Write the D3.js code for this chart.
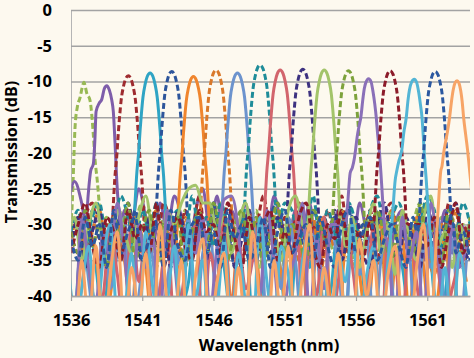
<!DOCTYPE html>
<html>
<head>
<meta charset="utf-8">
<script src="https://cdn.jsdelivr.net/npm/d3@7"></script>
<style>
html, body { margin: 0; padding: 0; background: #fdf9ef; }
svg { display: block; }
text { font-family: "Open Sans", sans-serif; font-weight: 700; fill: #000; }
</style>
</head>
<body>
<div id="chart"></div>
<script>
// tick labels
var xTicks = [1536, 1541, 1546, 1551, 1556, 1561];
var yTicks = [0, -5, -10, -15, -20, -25, -30, -35, -40];

// wavelength grids of the crosstalk floor (nm)
var gridA = [1536,1536.5,1537,1537.5,1538,1538.5,1539,1539.5,1540,1540.5,1541,1541.5,1542,1542.5,1543,1543.5,1544,1544.5,1545,1545.5,1546,1546.5,1547,1547.5,1548,1548.5,1549,1549.5,1550,1550.5,1551,1551.5,1552,1552.5,1553,1553.5,1554,1554.5,1555,1555.5,1556,1556.5,1557,1557.5,1558,1558.5,1559,1559.5,1560,1560.5,1561,1561.5,1562,1562.5,1563,1563.5,1564];
var gridB = [1535.75,1536.25,1536.75,1537.25,1537.75,1538.25,1538.75,1539.25,1539.75,1540.25,1540.75,1541.25,1541.75,1542.25,1542.75,1543.25,1543.75,1544.25,1544.75,1545.25,1545.75,1546.25,1546.75,1547.25,1547.75,1548.25,1548.75,1549.25,1549.75,1550.25,1550.75,1551.25,1551.75,1552.25,1552.75,1553.25,1553.75,1554.25,1554.75,1555.25,1555.75,1556.25,1556.75,1557.25,1557.75,1558.25,1558.75,1559.25,1559.75,1560.25,1560.75,1561.25,1561.75,1562.25,1562.75,1563.25,1563.75];

// crosstalk floor of each channel (dB), odd channels on gridA, even on gridB
var floor1 = [-30,-29,-28,-29,-30,-29,-33,-28,-35,-30,-27,-32,-36,-29,-31,-34,-28,-33,-30,-36,-29,-27,-33,-31,-35,-30,-28,-34,-32,-29,-36,-30,-27,-33,-35,-29,-31,-34,-28,-32,-36,-30,-29,-34,-31,-28,-33,-35,-30,-27,-32,-34,-29,-31,-35,-30,-33];
var floor2 = [-28,-24,-27,-31,-30,-29,-28,-27,-28,-30,-25,-29,-33,-27,-31,-26,-29,-34,-28,-25,-31,-26,-33,-28,-30,-27,-34,-29,-32,-26,-30,-33,-28,-31,-27,-35,-29,-32,-28,-30,-34,-27,-31,-33,-29,-36,-30,-28,-33,-31,-35,-29,-32,-28,-34,-30,-31];
var floor3 = [-31,-34,-29,-27,-32,-30,-30,-30,-30,-30,-30,-29,-33,-27,-30,-35,-28,-31,-26,-33,-29,-34,-27,-31,-35,-28,-30,-26,-32,-34,-29,-31,-27,-33,-30,-35,-28,-31,-26,-34,-30,-32,-28,-35,-29,-27,-33,-30,-34,-28,-31,-29,-35,-27,-32,-30,-33];
var floor4 = [-34,-42,-31,-30,-36,-44,-33,-30,-35,-32,-30,-30,-30,-30,-30,-33,-41,-38,-29,-45,-31,-30,-36,-43,-33,-30,-44,-42,-29,-31,-37,-46,-34,-28,-36,-31,-42,-39,-30,-44,-29,-33,-41,-31,-30,-45,-34,-36,-43,-32,-29,-35,-44,-40,-31,-34,-33];
var floor5 = [-33,-30,-35,-28,-32,-36,-29,-31,-34,-28,-33,-30,-30,-30,-30,-30,-30,-35,-29,-32,-27,-34,-31,-36,-28,-33,-30,-35,-29,-27,-32,-34,-30,-36,-28,-31,-33,-29,-35,-27,-32,-30,-34,-28,-36,-31,-29,-33,-35,-30,-27,-34,-31,-28,-33,-36,-30];
var floor6 = [-36,-44,-39,-31,-34,-42,-40,-32,-35,-43,-30,-36,-45,-39,-31,-35,-29,-30,-30,-30,-30,-30,-30,-41,-32,-44,-29,-39,-46,-31,-37,-43,-30,-35,-44,-32,-29,-42,-45,-33,-31,-37,-44,-34,-30,-46,-35,-32,-43,-29,-36,-45,-40,-31,-44,-34,-38];
var floor7 = [-32,-29,-35,-31,-28,-34,-36,-30,-33,-29,-35,-31,-28,-34,-30,-36,-29,-32,-35,-28,-30,-30,-30,-30,-30,-33,-29,-36,-31,-28,-34,-30,-35,-32,-29,-37,-31,-33,-28,-35,-30,-34,-29,-36,-32,-28,-33,-35,-31,-29,-34,-37,-30,-32,-28,-35,-31];
var floor8 = [-37,-44,-30,-38,-45,-31,-39,-34,-29,-43,-40,-32,-35,-46,-38,-33,-36,-29,-44,-34,-31,-42,-30,-30,-30,-30,-30,-30,-44,-32,-39,-29,-35,-45,-31,-34,-43,-30,-36,-44,-29,-37,-32,-45,-35,-31,-43,-30,-34,-46,-33,-36,-29,-42,-32,-44,-35];
var floor9 = [-31,-28,-33,-29,-27,-32,-30,-26,-29,-33,-28,-31,-27,-34,-30,-28,-32,-26,-31,-29,-33,-27,-30,-32,-28,-30,-30,-30,-30,-30,-27,-28,-32,-30,-26,-33,-28,-31,-34,-27,-30,-33,-28,-26,-31,-29,-27,-30,-32,-30,-26,-28,-33,-29,-31,-27,-30];
var floor10 = [-35,-44,-31,-36,-42,-40,-30,-37,-45,-29,-38,-32,-43,-39,-31,-44,-40,-33,-30,-46,-34,-38,-29,-43,-32,-39,-35,-30,-30,-30,-30,-30,-30,-44,-33,-40,-29,-45,-38,-31,-36,-43,-39,-30,-46,-32,-35,-44,-31,-38,-45,-29,-36,-43,-39,-35,-32];
var floor11 = [-33,-29,-36,-31,-28,-34,-30,-35,-27,-32,-35,-29,-33,-30,-36,-28,-31,-34,-29,-35,-27,-33,-30,-36,-32,-28,-35,-30,-34,-29,-31,-30,-30,-30,-30,-30,-33,-28,-35,-31,-29,-34,-36,-30,-27,-33,-35,-29,-32,-36,-28,-31,-34,-30,-27,-33,-35];
var floor12 = [-32,-29,-35,-30,-27,-33,-36,-28,-31,-34,-29,-26,-32,-35,-28,-30,-27,-25,-24.5,-27,-27,-31,-29,-34,-30,-27,-33,-36,-29,-31,-35,-28,-26,-30,-30,-30,-30,-30,-30,-33,-29,-36,-31,-27,-34,-30,-37,-28,-32,-35,-29,-26,-33,-31,-36,-30,-34];
var floor13 = [-31,-34,-28,-33,-30,-36,-29,-32,-27,-35,-31,-28,-34,-30,-33,-29,-36,-31,-28,-34,-27,-32,-35,-30,-28,-33,-29,-36,-31,-27,-34,-30,-32,-35,-28,-30,-33,-29,-30,-30,-30,-30,-30,-28,-32,-35,-29,-31,-34,-27,-33,-30,-36,-28,-31,-34,-29];
var floor14 = [-38,-44,-29,-36,-41,-31,-35,-27,-34,-45,-30,-36,-32,-43,-28,-35,-44,-31,-34,-29,-42,-33,-26.5,-26,-31,-44,-32,-40,-28,-35,-45,-38,-34,-27,-43,-32,-39,-30,-30,-30,-30,-30,-30,-30,-36,-33,-45,-29,-35,-31,-44,-27,-34,-43,-30,-36,-33];
var floor15 = [-34,-30,-27,-33,-36,-29,-31,-35,-28,-32,-30,-34,-27,-36,-31,-29,-33,-35,-28,-31,-30,-34,-27,-32,-36,-29,-33,-30,-28,-35,-31,-34,-29,-27,-33,-36,-30,-32,-28,-34,-31,-35,-29,-33,-30,-30,-30,-30,-30,-30,-33,-29,-36,-31,-27,-34,-30];
var floor16 = [-41,-46,-39,-33,-44,-35,-30,-43,-42,-34,-45,-31,-39,-44,-41,-33,-46,-30,-40,-35,-45,-42,-32,-44,-34,-41,-46,-29,-38,-44,-33,-37,-45,-35,-31,-43,-36,-46,-34,-38,-30,-44,-37,-33,-45,-35,-30,-30,-30,-30,-30,-30,-44,-36,-46,-34,-40];
var floor17 = [-32,-35,-29,-33,-30,-36,-28,-34,-31,-29,-35,-32,-30,-36,-28,-33,-35,-30,-29,-34,-31,-36,-28,-32,-30,-35,-33,-29,-36,-31,-28,-34,-32,-30,-35,-29,-33,-36,-30,-28,-34,-31,-29,-35,-32,-30,-33,-36,-29,-30,-30,-30,-30,-30,-34,-31,-35];
var floor18 = [-38,-46,-35,-44,-33,-47,-37,-31,-45,-36,-42,-34,-46,-30,-41,-44,-35,-47,-37,-32,-45,-38,-34,-46,-36,-44,-31,-41,-47,-35,-43,-33,-45,-37,-30,-46,-36,-42,-34,-44,-47,-32,-40,-35,-45,-37,-33,-44,-46,-36,-30,-43,-34,-30,-30,-30,-30];

// passband of each channel: [wavelength nm, transmission dB]
var peak1 = [[1535.9,-33],[1536.0,-30],[1536.1,-26.5],[1536.18,-22],[1536.28,-16.5],[1536.45,-13.5],[1536.63,-12.3],[1536.78,-10.9],[1536.91,-10.1],[1537.0,-10.7],[1537.1,-11.6],[1537.33,-12.6],[1537.45,-14.5],[1537.55,-17],[1537.69,-21],[1537.85,-24],[1538.0,-27.5],[1538.15,-30]];
var peak2 = [[1537.05,-30],[1537.2,-26],[1537.38,-22.5],[1537.57,-21.5],[1537.68,-18],[1537.76,-14.2],[1537.99,-13],[1538.16,-12.5],[1538.34,-11],[1538.51,-10.6],[1538.69,-11.2],[1538.86,-12.6],[1538.97,-14.2],[1539.09,-18.6],[1539.21,-23.8],[1539.35,-28],[1539.5,-31]];
var peak3 = [[1538.74,-32],[1538.89,-30.2],[1538.97,-27.2],[1539.07,-23.7],[1539.22,-20.2],[1539.32,-17.2],[1539.42,-14.7],[1539.52,-12.6],[1539.67,-10.8],[1539.82,-9.7],[1540.02,-9.2],[1540.22,-9.7],[1540.37,-10.8],[1540.52,-12.6],[1540.62,-14.7],[1540.72,-17.2],[1540.82,-20.2],[1540.97,-23.7],[1541.07,-27.2],[1541.15,-30.2],[1541.30,-31]];
var peak4 = [[1540.27,-33],[1540.42,-29.8],[1540.50,-26.8],[1540.60,-23.3],[1540.75,-19.8],[1540.85,-16.8],[1540.95,-14.3],[1541.05,-12.2],[1541.20,-10.4],[1541.35,-9.3],[1541.55,-8.8],[1541.75,-9.3],[1541.90,-10.4],[1542.05,-12.2],[1542.15,-14.3],[1542.25,-16.8],[1542.35,-19.8],[1542.50,-23.3],[1542.60,-26.8],[1542.68,-29.8],[1542.83,-32]];
var peak5 = [[1541.79,-31],[1541.94,-29.6],[1542.02,-26.6],[1542.12,-23.1],[1542.27,-19.6],[1542.37,-16.6],[1542.47,-14.1],[1542.57,-12],[1542.72,-10.2],[1542.87,-9.1],[1543.07,-8.6],[1543.27,-9.1],[1543.42,-10.2],[1543.57,-12],[1543.67,-14.1],[1543.77,-16.6],[1543.87,-19.6],[1544.02,-23.1],[1544.12,-26.6],[1544.20,-29.6],[1544.35,-31]];
var peak6 = [[1543.31,-34],[1543.46,-30.3],[1543.54,-27.3],[1543.64,-23.8],[1543.79,-20.3],[1543.89,-17.3],[1543.99,-14.8],[1544.09,-12.7],[1544.24,-10.9],[1544.39,-9.8],[1544.59,-9.3],[1544.79,-9.8],[1544.94,-10.9],[1545.09,-12.7],[1545.19,-14.8],[1545.29,-17.3],[1545.39,-20.3],[1545.54,-23.8],[1545.64,-27.3],[1545.72,-30.3],[1545.87,-33]];
var peak7 = [[1544.90,-31],[1545.05,-29.4],[1545.13,-26.4],[1545.23,-22.9],[1545.38,-19.4],[1545.48,-16.4],[1545.58,-13.9],[1545.68,-11.8],[1545.83,-10],[1545.98,-8.9],[1546.18,-8.4],[1546.38,-8.9],[1546.53,-10],[1546.68,-11.8],[1546.78,-13.9],[1546.88,-16.4],[1546.98,-19.4],[1547.13,-22.9],[1547.23,-26.4],[1547.31,-29.4],[1547.46,-31]];
var peak8 = [[1546.40,-33],[1546.55,-29.8],[1546.63,-26.8],[1546.73,-23.3],[1546.88,-19.8],[1546.98,-16.8],[1547.08,-14.3],[1547.18,-12.2],[1547.33,-10.4],[1547.48,-9.3],[1547.68,-8.8],[1547.88,-9.3],[1548.03,-10.4],[1548.18,-12.2],[1548.28,-14.3],[1548.38,-16.8],[1548.48,-19.8],[1548.63,-23.3],[1548.73,-26.8],[1548.81,-29.8],[1548.96,-32]];
var peak9 = [[1547.99,-30],[1548.14,-28.7],[1548.22,-25.7],[1548.32,-22.2],[1548.47,-18.7],[1548.57,-15.7],[1548.67,-13.2],[1548.77,-11.1],[1548.92,-9.3],[1549.07,-8.2],[1549.27,-7.7],[1549.47,-8.2],[1549.62,-9.3],[1549.77,-11.1],[1549.87,-13.2],[1549.97,-15.7],[1550.07,-18.7],[1550.22,-22.2],[1550.32,-25.7],[1550.40,-28.7],[1550.55,-30]];
var peak10 = [[1549.40,-32],[1549.55,-29.4],[1549.63,-26.4],[1549.73,-22.9],[1549.88,-19.4],[1549.98,-16.4],[1550.08,-13.9],[1550.18,-11.8],[1550.33,-10],[1550.48,-8.9],[1550.68,-8.4],[1550.88,-8.9],[1551.03,-10],[1551.18,-11.8],[1551.28,-13.9],[1551.38,-16.4],[1551.48,-19.4],[1551.63,-22.9],[1551.73,-26.4],[1551.81,-29.4],[1551.96,-32]];
var peak11 = [[1550.99,-31],[1551.14,-29.3],[1551.22,-26.3],[1551.32,-22.8],[1551.47,-19.3],[1551.57,-16.3],[1551.67,-13.8],[1551.77,-11.7],[1551.92,-9.9],[1552.07,-8.8],[1552.27,-8.3],[1552.47,-8.8],[1552.62,-9.9],[1552.77,-11.7],[1552.87,-13.8],[1552.97,-16.3],[1553.07,-19.3],[1553.22,-22.8],[1553.32,-26.3],[1553.40,-29.3],[1553.55,-30]];
var peak12 = [[1552.49,-31],[1552.64,-29.4],[1552.72,-26.4],[1552.82,-22.9],[1552.97,-19.4],[1553.07,-16.4],[1553.17,-13.9],[1553.27,-11.8],[1553.42,-10],[1553.57,-8.9],[1553.77,-8.4],[1553.97,-8.9],[1554.12,-10],[1554.27,-11.8],[1554.37,-13.9],[1554.47,-16.4],[1554.57,-19.4],[1554.72,-22.9],[1554.82,-26.4],[1554.90,-29.4],[1555.05,-30]];
var peak13 = [[1554.19,-30],[1554.34,-29.5],[1554.42,-26.5],[1554.52,-23],[1554.67,-19.5],[1554.77,-16.5],[1554.87,-14],[1554.97,-11.9],[1555.12,-10.1],[1555.27,-9],[1555.47,-8.5],[1555.67,-9],[1555.82,-10.1],[1555.97,-11.9],[1556.07,-14],[1556.17,-16.5],[1556.27,-19.5],[1556.42,-23],[1556.52,-26.5],[1556.60,-29.5],[1556.75,-30]];
var peak14 = [[1555.40,-27.5],[1555.59,-22.8],[1555.75,-22],[1555.88,-20.8],[1555.94,-20],[1556.10,-17.5],[1556.22,-16.2],[1556.34,-15],[1556.48,-12.5],[1556.58,-11],[1556.72,-10],[1556.88,-9.6],[1557.05,-10],[1557.20,-11.5],[1557.32,-13.2],[1557.42,-15],[1557.52,-17.4],[1557.65,-20],[1557.75,-22.8],[1557.85,-26],[1557.95,-29],[1558.10,-32]];
var peak15 = [[1557.12,-31],[1557.27,-29.5],[1557.35,-26.5],[1557.45,-23],[1557.60,-19.5],[1557.70,-16.5],[1557.80,-14],[1557.90,-11.9],[1558.05,-10.1],[1558.20,-9],[1558.40,-8.5],[1558.60,-9],[1558.75,-10.1],[1558.90,-11.9],[1559.00,-14],[1559.10,-16.5],[1559.20,-19.5],[1559.35,-23],[1559.45,-26.5],[1559.53,-29.5],[1559.68,-30]];
var peak16 = [[1558.55,-29],[1558.75,-23.8],[1558.87,-22.4],[1559.00,-21.2],[1559.12,-20.4],[1559.22,-19.5],[1559.35,-17.2],[1559.53,-15],[1559.65,-12.6],[1559.75,-11.2],[1559.90,-10.1],[1560.09,-9.7],[1560.25,-10.1],[1560.40,-11.5],[1560.52,-13.2],[1560.63,-15],[1560.72,-17.6],[1560.79,-20],[1560.86,-22],[1560.93,-23.8],[1561.05,-27.5],[1561.20,-31]];
var peak17 = [[1560.28,-31],[1560.43,-29.6],[1560.51,-26.6],[1560.61,-23.1],[1560.76,-19.6],[1560.86,-16.6],[1560.96,-14.1],[1561.06,-12],[1561.21,-10.2],[1561.36,-9.1],[1561.56,-8.6],[1561.76,-9.1],[1561.91,-10.2],[1562.06,-12],[1562.16,-14.1],[1562.26,-16.6],[1562.36,-19.6],[1562.51,-23.1],[1562.61,-26.6],[1562.69,-29.6],[1562.84,-30]];
var peak18 = [[1561.70,-30],[1561.85,-25],[1561.95,-22.5],[1562.03,-21.9],[1562.15,-20],[1562.28,-18.5],[1562.42,-17],[1562.57,-15],[1562.70,-12.8],[1562.82,-11.2],[1562.95,-10.2],[1563.09,-9.9],[1563.22,-10.2],[1563.35,-11.3],[1563.45,-12.8],[1563.55,-15],[1563.70,-17.5],[1563.83,-19.6],[1563.95,-22],[1564.10,-25]];

// line styles per channel
var colors = ["#98b954", "#7e5daa", "#9e2b2f", "#2fa4c4", "#2d559b", "#f0852d",
              "#d9782a", "#6c93cd", "#1e8c99", "#d2656d", "#3d3280", "#a3c46a",
              "#7da23c", "#8a70b8", "#8c1c2a", "#53b5d5", "#2b58a0", "#f7a466"];
var dashed = [true, false, true, false, true, false, true, false, true,
              false, true, false, true, false, true, false, true, false];

var floors = [floor1, floor2, floor3, floor4, floor5, floor6, floor7, floor8, floor9,
              floor10, floor11, floor12, floor13, floor14, floor15, floor16, floor17, floor18];
var peaks = [peak1, peak2, peak3, peak4, peak5, peak6, peak7, peak8, peak9,
             peak10, peak11, peak12, peak13, peak14, peak15, peak16, peak17, peak18];

// join floor and passband into one trace per channel
var traces = floors.map(function (f, i) {
    var grid = i % 2 === 0 ? gridA : gridB;
    var pk = peaks[i];
    var lo = pk[0][0] - 0.1;
    var hi = pk[pk.length - 1][0] + 0.1;
    var pts = [];
    grid.forEach(function (w, j) { if (w < lo) pts.push([w, f[j]]); });
    pk.forEach(function (p) { pts.push(p); });
    grid.forEach(function (w, j) { if (w > hi) pts.push([w, f[j]]); });
    return pts;
});

var W = 474, H = 358;
// plot box (window.top is read-only, so keep these names distinct)
var plotL = 71, plotR = 470, plotT = 10, plotB = 296;

var svg = d3.select("#chart").append("svg")
    .attr("width", W)
    .attr("height", H);

svg.append("rect")
    .attr("width", W)
    .attr("height", H)
    .attr("fill", "#fdf9ef");

var x = d3.scaleLinear().domain([1536, 1564]).range([plotL, plotR]);
var y = d3.scaleLinear().domain([-40, 0]).range([plotB, plotT]);

// plain hyphen minus, as in the original
var plainFormat = function (d) { return String(d); };

// y axis with gridlines
var yAxis = svg.append("g")
    .attr("transform", "translate(" + plotL + ",0)")
    .call(d3.axisLeft(y).tickValues(yTicks).tickSizeInner(-(plotR - plotL)).tickSizeOuter(0).tickPadding(19).tickFormat(plainFormat));
yAxis.select(".domain").attr("stroke", "#b5b5b5").attr("stroke-width", 1);
yAxis.selectAll(".tick line").attr("stroke", "#a3a3a3").attr("stroke-width", 1.3);
yAxis.selectAll(".tick text")
    .attr("font-size", "16.5px")
    .attr("font-family", "'Open Sans', sans-serif")
    .attr("font-weight", 700)
    .attr("fill", "#000");

svg.append("clipPath").attr("id", "plotClip")
    .append("rect")
    .attr("x", plotL + 0.5)
    .attr("y", 0)
    .attr("width", plotR - plotL - 0.5)
    .attr("height", plotB);

var line = d3.line()
    .x(function (d) { return x(d[0]); })
    .y(function (d) { return y(d[1]); })
    .curve(d3.curveMonotoneX);

svg.append("g")
    .attr("clip-path", "url(#plotClip)")
    .selectAll("path")
    .data(traces)
    .enter()
    .append("path")
    .attr("d", line)
    .attr("fill", "none")
    .attr("stroke", function (d, i) { return colors[i]; })
    .attr("stroke-width", 3)
    .attr("stroke-linejoin", "round")
    .attr("stroke-dasharray", function (d, i) { return dashed[i] ? "6,3" : null; });

// x axis on top of the traces
var xAxis = svg.append("g")
    .attr("transform", "translate(0," + plotB + ")")
    .call(d3.axisBottom(x).tickValues(xTicks).tickSizeInner(5).tickSizeOuter(0).tickPadding(13).tickFormat(plainFormat));
xAxis.select(".domain").attr("stroke", "#a3a3a3").attr("stroke-width", 1.3);
xAxis.selectAll(".tick line").attr("stroke", "#a3a3a3").attr("stroke-width", 1.2);
xAxis.selectAll(".tick text")
    .attr("font-size", "16.5px")
    .attr("font-family", "'Open Sans', sans-serif")
    .attr("font-weight", 700)
    .attr("fill", "#000");

// axis titles
svg.append("text")
    .attr("x", 269)
    .attr("y", 351)
    .attr("text-anchor", "middle")
    .attr("font-size", "16.5px")
    .text("Wavelength (nm)");

svg.append("text")
    .attr("transform", "translate(17,152) rotate(-90)")
    .attr("text-anchor", "middle")
    .attr("font-size", "16px")
    .text("Transmission (dB)");
</script>
</body>
</html>
